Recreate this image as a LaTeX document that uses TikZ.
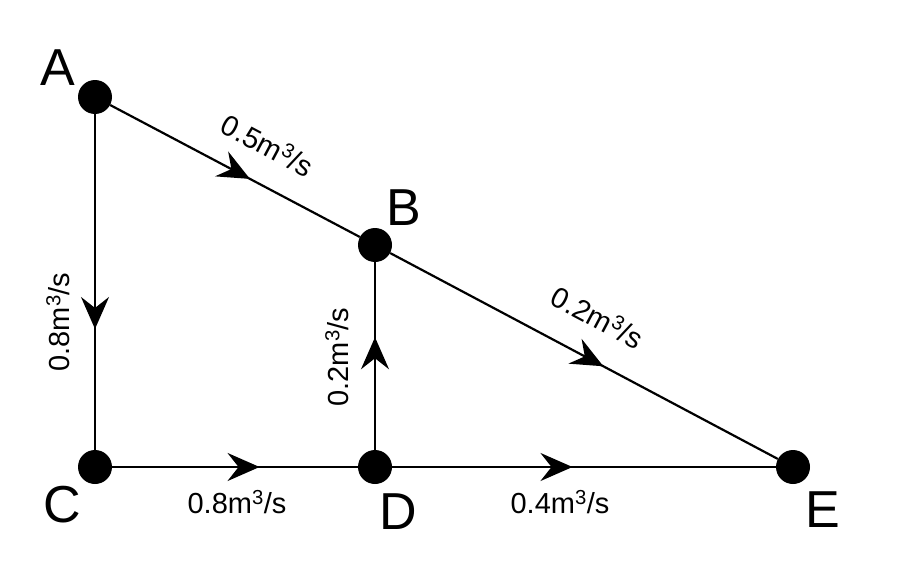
\documentclass[tikz,border=0pt]{standalone}
\usepackage{fontspec}
\setmainfont{Liberation Sans}
\usetikzlibrary{decorations.markings,arrows.meta}
\begin{document}
\begin{tikzpicture}[x=1pt,y=-1pt,
  pt/.style={circle,fill=black,inner sep=0,minimum size=34pt},
  flow/.style={line width=2.2pt,postaction={decorate},decoration={markings,mark=at position #1 with {\arrow{Stealth[length=32pt,width=28pt,inset=11pt]}}}},
  lbl/.style={font=\fontsize{29}{32}\selectfont,inner sep=1pt},
  let/.style={font=\fontsize{52}{56}\selectfont,inner sep=0}]
\useasboundingbox (0,0) rectangle (914,570);
\node[pt] (A) at (95,97) {};
\node[pt] (B) at (375,245) {};
\node[pt] (C) at (95,467) {};
\node[pt] (D) at (375,467) {};
\node[pt] (E) at (793,467) {};
\draw[flow=0.64] (A) -- (C);
\draw[flow=0.56] (A) -- (B);
\draw[flow=0.55] (B) -- (E);
\draw[flow=0.6] (C) -- (D);
\draw[flow=0.47] (D) -- (E);
\draw[flow=0.6] (D) -- (B);
\node[let] (lA) at (58,68) {A};
\node[let] (lB) at (404,208) {B};
\node[let] (lC) at (62,505) {C};
\node[let] (lD) at (398,512) {D};
\node[let] (lE) at (823,510) {E};
\node[lbl,rotate=-28] (fAB) at (268,145) {0.5m\textsuperscript{3}/s};
\node[lbl,rotate=-28] (fBE) at (598,317) {0.2m\textsuperscript{3}/s};
\node[lbl,rotate=90] (fAC) at (58,322) {0.8m\textsuperscript{3}/s};
\node[lbl,rotate=90] (fDB) at (337,357) {0.2m\textsuperscript{3}/s};
\node[lbl] (fCD) at (237,502) {0.8m\textsuperscript{3}/s};
\node[lbl] (fDE) at (560,502) {0.4m\textsuperscript{3}/s};
\end{tikzpicture}
\end{document}
